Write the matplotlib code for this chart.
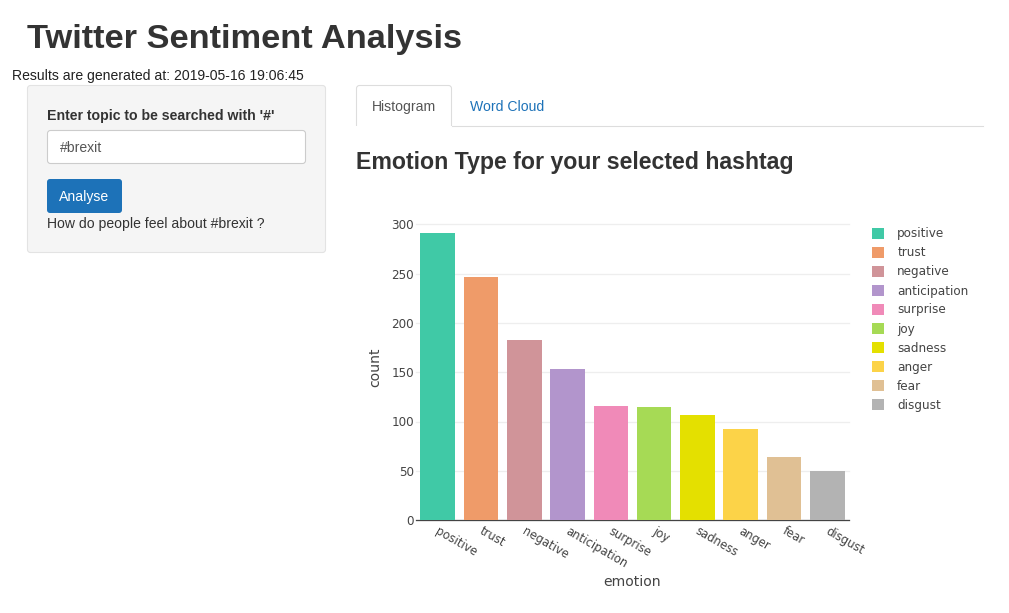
import matplotlib
matplotlib.use('Agg')
import matplotlib.pyplot as plt
from matplotlib.patches import FancyBboxPatch, Rectangle
from matplotlib.transforms import ScaledTranslation

emotions = ['positive', 'trust', 'negative', 'anticipation', 'surprise', 'joy', 'sadness', 'anger', 'fear', 'disgust']
counts = [291, 247, 183, 153, 116, 115, 107, 92, 64, 50]
colors = ['#40c9a6', '#ef9b69', '#d09499', '#b295cc', '#f08ab8', '#a6da55', '#e4e000', '#fcd348', '#e0c094', '#b3b3b3']
y_ticks = [0, 50, 100, 150, 200, 250, 300]

W, H = 1009, 613
plt.rcParams['font.family'] = ['Liberation Sans', 'DejaVu Sans']


def px(size):
    # css pixels to points at dpi 100
    return size * 0.72


def box(bg, x, y, w, h, face, edge, r=3, lw=0.8):
    p = FancyBboxPatch((x + r, y + r), w - 2 * r, h - 2 * r, boxstyle='round,pad=%f,rounding_size=%f' % (r, r),
                       facecolor=face, edgecolor=edge, linewidth=lw)
    bg.add_patch(p)


fig = plt.figure(figsize=(W / 100, H / 100), dpi=100, facecolor='white')

# page layer, in pixel coordinates
bg = fig.add_axes([0, 0, 1, 1])
bg.set_xlim(0, W)
bg.set_ylim(H, 0)
bg.axis('off')

bg.text(27, 39.5, 'Twitter Sentiment Analysis', fontsize=px(34.4), color='#333333', fontweight='bold', va='center')
bg.text(12, 75.9, 'Results are generated at: 2019-05-16 19:06:45', fontsize=px(14), color='#222222', va='center')

# side panel
box(bg, 27.5, 85.5, 298, 167, '#f5f5f5', '#e3e3e3')
bg.text(47, 115.9, "Enter topic to be searched with '#'", fontsize=px(14.15), color='#333333', fontweight='bold', va='center')
box(bg, 47.5, 130.5, 258, 33, 'white', '#cccccc')
bg.text(60, 147.5, '#brexit', fontsize=px(14), color='#555555', va='center')
box(bg, 47, 179, 75, 34, '#1d72b8', '#1d72b8', lw=0)
bg.text(84.5, 196.5, 'Analyse', fontsize=px(14), color='white', ha='center', va='center')
bg.text(47, 223.9, 'How do people feel about #brexit ?', fontsize=px(14), color='#333333', va='center')

# tabs
bg.plot([452, 983], [125.8, 125.8], color='#dddddd', lw=0.8)
box(bg, 356.5, 85.5, 95, 45, 'white', '#dddddd')
bg.add_patch(Rectangle((355, 126), 98, 6, facecolor='white', edgecolor='none'))
bg.text(404, 106.5, 'Histogram', fontsize=px(14), color='#555555', ha='center', va='center')
bg.text(507, 107.2, 'Word Cloud', fontsize=px(14), color='#1d72b8', ha='center', va='center')
bg.text(356, 162.5, 'Emotion Type for your selected hashtag', fontsize=px(23.1), color='#333333', fontweight='bold', va='center')

# bar chart
ax = fig.add_axes([416 / W, 1 - 520 / H, 433 / W, 295.5 / H])
ax.patch.set_alpha(0)
bars = ax.bar(emotions, counts, width=0.8, color=colors, edgecolor='none', zorder=3)
for b, name in zip(bars, emotions):
    b.set_label(name)
ax.set_xlim(-0.5, 9.5)
ax.set_ylim(0, 300)
ax.set_yticks(y_ticks)
ax.grid(axis='y', color='#eeeeee', lw=0.9, zorder=0, clip_on=False)
ax.set_axisbelow(True)
for s in ['top', 'right', 'left']:
    ax.spines[s].set_visible(False)
ax.spines['bottom'].set_color('#444444')
ax.spines['bottom'].set_linewidth(0.9)
ax.tick_params(axis='both', length=0, colors='#444444')
ax.tick_params(axis='y', pad=1.5)
ax.tick_params(axis='x', pad=8)
for t in ax.get_yticklabels():
    t.set_family('DejaVu Sans')
    t.set_fontsize(px(12))
for t in ax.get_xticklabels():
    t.set_family('DejaVu Sans')
    t.set_fontsize(px(11.6))
    t.set_rotation(-30)
    t.set_rotation_mode('anchor')
    t.set_ha('left')
    t.set_va('center')
    # small left nudge for the rotated labels
    t.set_transform(t.get_transform() + ScaledTranslation(-1 / 100, 1 / 100, fig.dpi_scale_trans))
ax.set_xlabel('emotion', fontsize=px(14), color='#444444', family='DejaVu Sans', labelpad=0)
ax.xaxis.set_label_coords(0.5, -55 / 295.5, transform=ax.transAxes)
ax.set_ylabel('count', fontsize=px(14), color='#444444', family='DejaVu Sans')
ax.yaxis.set_label_coords(-34 / 433, 0.517, transform=ax.transAxes)

leg = ax.legend(handles=list(bars), loc='upper left', bbox_to_anchor=(872 / W, 1 - 227.5 / H),
                bbox_transform=fig.transFigure, frameon=False, borderpad=0, borderaxespad=0,
                handlelength=1.0, handleheight=1.0, handletextpad=1.1, labelspacing=0.5,
                prop={'family': 'DejaVu Sans', 'size': px(12)})
for t in leg.get_texts():
    t.set_color('#444444')

fig.savefig('out.png', dpi=100)
